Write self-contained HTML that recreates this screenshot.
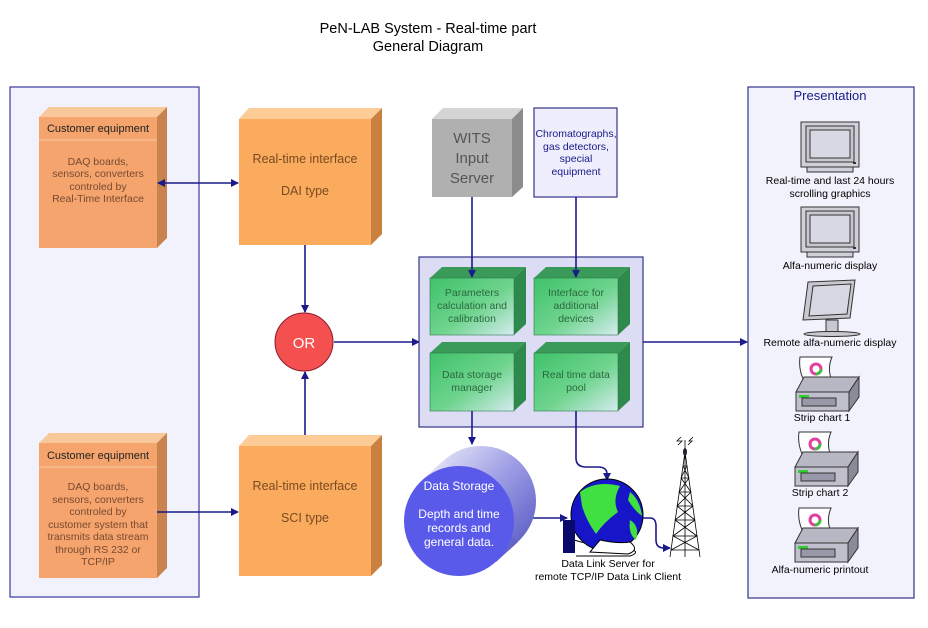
<!DOCTYPE html>
<html><head><meta charset="utf-8"><style>
html,body{margin:0;padding:0;background:#fff}
svg{display:block;font-family:"Liberation Sans",sans-serif}
</style></head><body>
<svg width="928" height="628" viewBox="0 0 928 628" xmlns="http://www.w3.org/2000/svg">
<defs>
<marker id="ar" markerWidth="8" markerHeight="8" refX="7" refY="4" orient="auto" markerUnits="userSpaceOnUse"><path d="M0,0 L8,4 L0,8 Z" fill="#1a1a8a"/></marker>
<marker id="al" markerWidth="8" markerHeight="8" refX="1" refY="4" orient="auto" markerUnits="userSpaceOnUse"><path d="M8,0 L0,4 L8,8 Z" fill="#1a1a8a"/></marker>
<linearGradient id="gr" x1="0" y1="0" x2="1" y2="1"><stop offset="0" stop-color="#3fc26a"/><stop offset="0.55" stop-color="#6fd48e"/><stop offset="1" stop-color="#d6ecf0"/></linearGradient>
<linearGradient id="cyl" x1="0" y1="0" x2="1" y2="1"><stop offset="0" stop-color="#f0f0fc"/><stop offset="0.5" stop-color="#9a9ae4"/><stop offset="1" stop-color="#5252c0"/></linearGradient>
<g id="mon">
<rect x="0" y="0" width="58" height="45" fill="#d0d0d8" stroke="#333" stroke-width="1"/>
<rect x="5" y="4" width="48" height="36" fill="#c8c8d0" stroke="#333"/>
<rect x="9" y="8" width="40" height="28" fill="#d8d8e4" stroke="#333"/>
<rect x="52" y="40" width="3" height="2" fill="#333"/>
<rect x="6" y="45" width="46" height="5" fill="#d0d0d8" stroke="#333"/>
</g>
<g id="prn">
<path d="M4,0 L36,0 Q30,14 38,28 L10,28 Q2,14 4,0Z" fill="#fff" stroke="#333"/>
<circle cx="20" cy="12" r="5" fill="none" stroke="#e040a0" stroke-width="3"/>
<circle cx="20" cy="12" r="5" fill="none" stroke="#40c040" stroke-width="3" stroke-dasharray="8 24"/>
<path d="M0,35 L8,20 L63,20 L53,35Z" fill="#b8b8c4" stroke="#333"/>
<rect x="0" y="35" width="53" height="19" fill="#c0c0cc" stroke="#333"/>
<path d="M53,35 L63,20 L63,40 L53,54Z" fill="#8a8a98" stroke="#333"/>
<rect x="3" y="38" width="10" height="3" fill="#3c3"/>
<rect x="6" y="41" width="34" height="8" fill="#9898a8" stroke="#333"/>
</g>
</defs>

<text x="428" y="33" font-size="14.5" text-anchor="middle" fill="#000">PeN-LAB System - Real-time part</text>
<text x="428" y="51" font-size="14.5" text-anchor="middle" fill="#000">General Diagram</text>

<rect x="10" y="87" width="189" height="510" fill="#f2f2fc" stroke="#3a3aa0" stroke-width="1.2"/>

<polygon points="39,117 49,107 167,107 157,117" fill="#f8c89a"/>
<polygon points="157,117 167,107 167,238 157,248" fill="#c8834e"/>
<rect x="39" y="117" width="118" height="131" fill="#f4a46c"/>
<line x1="39" y1="140" x2="157" y2="140" stroke="#f8c8a0"/>
<text x="98" y="132" font-size="11" text-anchor="middle" fill="#222">Customer equipment</text>
<g font-size="10.5" text-anchor="middle" fill="#7a4a32">
<text x="98" y="165">DAQ boards,</text><text x="98" y="177">sensors, converters</text><text x="98" y="190">controled by</text><text x="98" y="202">Real-Time Interface</text></g>

<polygon points="39,443 49,433 167,433 157,443" fill="#f8c89a"/>
<polygon points="157,443 167,433 167,568 157,578" fill="#c8834e"/>
<rect x="39" y="443" width="118" height="135" fill="#f4a46c"/>
<line x1="39" y1="467" x2="157" y2="467" stroke="#f8c8a0"/>
<text x="98" y="459" font-size="11" text-anchor="middle" fill="#222">Customer equipment</text>
<g font-size="10.5" text-anchor="middle" fill="#7a4a32">
<text x="98" y="490">DAQ boards,</text><text x="98" y="503">sensors, converters</text><text x="98" y="515">controled by</text><text x="98" y="528">customer system that</text><text x="98" y="540">transmits data stream</text><text x="98" y="553">through RS 232 or</text><text x="98" y="565">TCP/IP</text></g>

<polygon points="239,119 249,108 382,108 371,119" fill="#fccb96"/>
<polygon points="371,119 382,108 382,234 371,245" fill="#c98040"/>
<rect x="239" y="119" width="132" height="126" fill="#faab5e"/>
<text x="305" y="163" font-size="12.5" text-anchor="middle" fill="#7a4a20">Real-time interface</text>
<text x="305" y="195" font-size="12.5" text-anchor="middle" fill="#7a4a20">DAI type</text>

<polygon points="239,446 249,435 382,435 371,446" fill="#fccb96"/>
<polygon points="371,446 382,435 382,565 371,576" fill="#c98040"/>
<rect x="239" y="446" width="132" height="130" fill="#faab5e"/>
<text x="305" y="490" font-size="12.5" text-anchor="middle" fill="#7a4a20">Real-time interface</text>
<text x="305" y="522" font-size="12.5" text-anchor="middle" fill="#7a4a20">SCI type</text>

<g stroke="#1a1a8a" stroke-width="1.6" fill="none">
<line x1="158" y1="183" x2="238" y2="183" marker-start="url(#al)" marker-end="url(#ar)"/>
<line x1="157" y1="512" x2="238" y2="512" marker-end="url(#ar)"/>
<line x1="305" y1="245" x2="305" y2="312" marker-end="url(#ar)"/>
<line x1="305" y1="435" x2="305" y2="372" marker-end="url(#ar)"/>
<line x1="334" y1="342" x2="419" y2="342" marker-end="url(#ar)"/>
</g>

<circle cx="304" cy="342" r="29" fill="#f55050" stroke="#8a1a2a"/>
<text x="304" y="348" font-size="15" text-anchor="middle" fill="#fff">OR</text>

<polygon points="432,119 443,108 523,108 512,119" fill="#d4d4d4"/>
<polygon points="512,119 523,108 523,187 512,197" fill="#8c8c8c"/>
<rect x="432" y="119" width="80" height="78" fill="#b0b0b0"/>
<g font-size="15" text-anchor="middle" fill="#555"><text x="472" y="143">WITS</text><text x="472" y="163">Input</text><text x="472" y="183">Server</text></g>

<rect x="534" y="108" width="83" height="89" fill="#eeeefc" stroke="#33338a" stroke-width="1.2"/>
<g font-size="10.5" text-anchor="middle" fill="#1a1a8a"><text x="576" y="137">Chromatographs,</text><text x="576" y="150">gas detectors,</text><text x="576" y="162">special</text><text x="576" y="175">equipment</text></g>

<rect x="419" y="257" width="224" height="170" fill="#dcdcf4" stroke="#33338a" stroke-width="1.2"/>
<g>
<polygon points="430,278 442,267 526,267 514,278" fill="#3a9a5a"/>
<polygon points="514,278 526,267 526,324 514,335" fill="#2e8a4c"/>
<rect x="430" y="278" width="84" height="57" fill="url(#gr)" stroke="#2e7a48" stroke-width="0.6"/>
<polygon points="534,278 546,267 630,267 618,278" fill="#3a9a5a"/>
<polygon points="618,278 630,267 630,324 618,335" fill="#2e8a4c"/>
<rect x="534" y="278" width="84" height="57" fill="url(#gr)" stroke="#2e7a48" stroke-width="0.6"/>
<polygon points="430,353 442,342 526,342 514,353" fill="#3a9a5a"/>
<polygon points="514,353 526,342 526,400 514,411" fill="#2e8a4c"/>
<rect x="430" y="353" width="84" height="58" fill="url(#gr)" stroke="#2e7a48" stroke-width="0.6"/>
<polygon points="534,353 546,342 630,342 618,353" fill="#3a9a5a"/>
<polygon points="618,353 630,342 630,400 618,411" fill="#2e8a4c"/>
<rect x="534" y="353" width="84" height="58" fill="url(#gr)" stroke="#2e7a48" stroke-width="0.6"/>
</g>
<g font-size="10.5" text-anchor="middle" fill="#2a6a3e">
<text x="472" y="296">Parameters</text><text x="472" y="309">calculation and</text><text x="472" y="322">calibration</text>
<text x="576" y="296">Interface for</text><text x="576" y="309">additional</text><text x="576" y="322">devices</text>
<text x="472" y="378">Data storage</text><text x="472" y="391">manager</text>
<text x="576" y="378">Real time data</text><text x="576" y="391">pool</text>
</g>

<g stroke="#1a1a8a" stroke-width="1.6" fill="none">
<line x1="472" y1="197" x2="472" y2="277" marker-end="url(#ar)"/>
<line x1="576" y1="197" x2="576" y2="277" marker-end="url(#ar)"/>
<line x1="643" y1="342" x2="747" y2="342" marker-end="url(#ar)"/>
<line x1="472" y1="411" x2="472" y2="444" marker-end="url(#ar)"/>
<path d="M576,411 L576,458 Q576,467 586,467 L598,467 Q607,467 607,474 L607,480" marker-end="url(#ar)"/>
<path d="M513,518 L567,518" marker-end="url(#ar)"/>
<path d="M643,518 L650,518 Q656,518 656,526 L656,540 Q656,548 664,548 L670,548" marker-end="url(#ar)"/>
</g>

<!-- cylinder -->
<circle cx="481" cy="501" r="55" fill="url(#cyl)"/>
<polygon points="422,480 444,460 518,542 496,562" fill="url(#cyl)"/>
<circle cx="459" cy="521" r="55" fill="#5a5aea"/>
<g font-size="12" text-anchor="middle" fill="#fff"><text x="459" y="490">Data Storage</text><text x="459" y="518">Depth and time</text><text x="459" y="532">records and</text><text x="459" y="546">general data.</text></g>

<path d="M574,540 Q600,548 628,548 Q642,552 630,556 L576,556" fill="#fff" stroke="#000"/>
<circle cx="607" cy="515" r="36" fill="#1616c8" stroke="#000"/>
<path d="M580,492 Q596,480 620,486 Q612,500 618,512 Q604,522 596,534 Q586,520 582,506Z" fill="#40e040"/>
<path d="M630,492 Q640,500 642,516 Q634,510 628,500Z" fill="#40e040"/>
<path d="M630,520 Q640,526 636,540 Q628,534 630,520Z" fill="#40e040"/>
<path d="M600,540 Q618,544 630,542 Q640,550 628,554 L590,552Z" fill="#fff" stroke="#000"/>
<rect x="563" y="520" width="12" height="33" fill="#0a0a6a"/>
<g font-size="10.5" text-anchor="middle" fill="#000"><text x="608" y="567">Data Link Server for</text><text x="608" y="580">remote TCP/IP Data Link Client</text></g>

<g stroke="#000" stroke-width="0.8" fill="none">
<path d="M685,452 L670,557 M685,452 L700,557 M685,452 L685,557"/>
<path d="M683,466 L687,466 M681,478 L689,478 M679,492 L691,492 M677,506 L693,506 M675,520 L695,520 M673,536 L697,536 M671,550 L699,550"/>
<path d="M683,466 L689,478 L679,492 L693,506 L675,520 L697,536 L671,550 M687,466 L681,478 L691,492 L677,506 L695,520 L673,536 L699,550"/>
<path d="M685,448 L685,440 M678,445 L682,441 L677,441 L681,437 M688,445 L692,441 L689,441 L693,437"/>
</g>
<ellipse cx="685" cy="452" rx="2" ry="4" fill="#223"/>

<rect x="748" y="87" width="166" height="511" fill="#f2f2fc" stroke="#33338a" stroke-width="1.2"/>
<text x="830" y="100" font-size="13" text-anchor="middle" fill="#1a1a8a">Presentation</text>
<use href="#mon" x="801" y="122"/>
<g font-size="10.5" text-anchor="middle" fill="#000">
<text x="830" y="184">Real-time and last 24 hours</text><text x="830" y="197">scrolling graphics</text></g>
<use href="#mon" x="801" y="207"/>
<text x="830" y="269" font-size="10.5" text-anchor="middle">Alfa-numeric display</text>
<polygon points="808,282 855,280 850,318 803,320" fill="#c8c8d0" stroke="#333"/>
<polygon points="813,286 851,284 847,314 809,316" fill="#d8d8e4" stroke="#333"/>
<rect x="826" y="320" width="12" height="12" fill="#c8c8d0" stroke="#333"/>
<ellipse cx="832" cy="334" rx="28" ry="2.5" fill="#c8c8d0" stroke="#333"/>
<text x="830" y="346" font-size="10.5" text-anchor="middle">Remote alfa-numeric display</text>
<use href="#prn" x="796" y="357"/>
<text x="822" y="421" font-size="10.5" text-anchor="middle">Strip chart 1</text>
<use href="#prn" x="795" y="432"/>
<text x="820" y="496" font-size="10.5" text-anchor="middle">Strip chart 2</text>
<use href="#prn" x="795" y="508"/>
<text x="820" y="573" font-size="10.5" text-anchor="middle">Alfa-numeric printout</text>
</svg>
</body></html>
